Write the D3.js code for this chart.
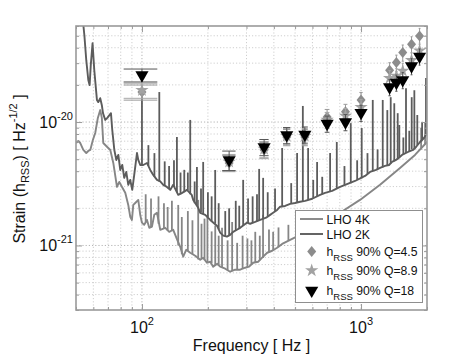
<!DOCTYPE html>
<html><head><meta charset="utf-8">
<script src="https://cdn.jsdelivr.net/npm/d3@7"></script>
<style>body{margin:0;background:#fff} svg{display:block;font-family:Arial,"Liberation Sans",sans-serif}</style>
</head><body><svg id="c" width="474" height="355"></svg>
<script>
// ---------------- data ----------------
// LHO 4K noise curve [frequency Hz, strain 1/sqrt(Hz)]
const lho4k = [[50,6.76e-21],[51.2,7.02e-21],[52.3,6.76e-21],[54.0,5.94e-21],[55.7,5.61e-21],[56.9,5.83e-21],[58.1,5.94e-21],[59.7,7.15e-21],[61.2,8.15e-21],[62.9,1.08e-20],[64.5,1.25e-20],[65.6,1.08e-20],[66.6,6.76e-21],[68.7,6.40e-21],[71.7,5.94e-21],[74.0,4.66e-21],[76.9,2.98e-21],[78.8,3.27e-21],[81.1,2.98e-21],[83.9,2.67e-21],[86.6,2.13e-21],[88.4,1.71e-21],[90.0,1.61e-21],[91.3,2.13e-21],[93.2,2.21e-21],[96.2,2.34e-21],[98.2,1.77e-21],[100,1.53e-21],[102.4,1.47e-21],[105.4,1.61e-21],[108.0,1.39e-21],[111.1,1.42e-21],[113.8,1.77e-21],[117.1,1.84e-21],[121.2,1.34e-21],[127.7,1.39e-21],[133.2,1.29e-21],[138.9,1.34e-21],[144.9,1.11e-21],[149.5,9.76e-22],[154.3,8.11e-22],[159.2,9.23e-22],[166.1,8.73e-22],[175.0,8.26e-22],[184.5,7.66e-22],[190.3,7.96e-22],[197.9,7.25e-22],[204.9,7.38e-22],[211.4,6.73e-22],[220.5,7.11e-22],[227.5,6.73e-22],[239.9,6.48e-22],[252.7,6.13e-22],[266.3,6.36e-22],[280.7,6.36e-22],[295.8,6.60e-22],[308.5,6.73e-22],[321.8,7.25e-22],[339.1,7.38e-22],[353.7,7.96e-22],[372.8,8.73e-22],[392.9,9.06e-22],[414,9.58e-22],[436.4,1.03e-21],[474.6,1.11e-21],[527.2,1.22e-21],[650.3,1.47e-21],[802.3,1.84e-21],[989,2.34e-21],[1221,3.10e-21],[1506,4.25e-21],[1763,5.41e-21],[2000,6.89e-21]];
// LHO 2K noise curve
const lho2k = [[53.6,7.0e-20],[54.6,5.05e-20],[55.7,3.17e-20],[56.9,2.19e-20],[57.7,1.99e-20],[58.4,2.89e-20],[59.5,4.35e-20],[60.6,2.63e-20],[62.3,1.51e-20],[63.2,1.45e-20],[64.5,1.56e-20],[65.6,1.37e-20],[66.4,1.18e-20],[68.0,1.04e-20],[69.5,1.08e-20],[72.2,1.18e-20],[73.2,8.62e-21],[74.8,5.94e-21],[76.4,4.93e-21],[78.0,5.41e-21],[79.6,4.09e-21],[81.3,4.49e-21],[83.0,3.53e-21],[84.8,3.94e-21],[86.6,3.10e-21],[88.4,3.40e-21],[90.3,2.82e-21],[92.2,3.73e-21],[94.9,5.61e-21],[96.2,4.93e-21],[98.2,4.49e-21],[101.4,4.49e-21],[105.4,4.66e-21],[109.1,4.09e-21],[112.6,3.73e-21],[117.1,3.40e-21],[121.2,3.3e-21],[125.1,3.10e-21],[130,2.98e-21],[134.6,2.82e-21],[138.9,3.10e-21],[146.4,2.57e-21],[152.6,2.67e-21],[160.4,2.82e-21],[168.7,2.57e-21],[171.4,2.34e-21],[180.6,2.02e-21],[184.5,1.84e-21],[194.4,1.77e-21],[204.9,1.61e-21],[220.5,1.44e-21],[227.5,1.27e-21],[234.9,1.20e-21],[244.2,1.18e-21],[252.7,1.22e-21],[260.8,1.29e-21],[271.2,1.34e-21],[280.7,1.39e-21],[301.2,1.53e-21],[311.8,1.50e-21],[328.6,1.55e-21],[346.3,1.61e-21],[368.8,1.68e-21],[384.6,1.77e-21],[396.9,1.84e-21],[414,1.94e-21],[427.3,2.06e-21],[450.3,2.09e-21],[474.6,2.17e-21],[500,2.21e-21],[527.2,2.26e-21],[555.6,2.30e-21],[597.9,2.39e-21],[650.3,2.57e-21],[685.4,2.67e-21],[737.7,2.77e-21],[802.3,2.98e-21],[845.5,3.10e-21],[939,3.33e-21],[1043,3.66e-21],[1099,3.94e-21],[1171,4.09e-21],[1221,4.25e-21],[1287,4.41e-21],[1342,4.49e-21],[1385,4.75e-21],[1444,4.93e-21],[1482,5.1e-21],[1538,5.41e-21],[1638,5.72e-21],[1727,5.94e-21],[1782,6.28e-21],[1858,6.89e-21],[1938,7.43e-21],[2000,8.15e-21]];
// narrow lines (spikes): [frequency, base strain, peak strain]
const spikes4k = [[104,1.55e-21,2.6e-21],[110,1.4e-21,2.4e-21],[119,1.5e-21,2.5e-21],[126,1.38e-21,2.2e-21],[131,1.32e-21,2.05e-21],[137,1.32e-21,2.3e-21],[146.4,1.0e-21,2.13e-21],[152,8.5e-22,1.7e-21],[162,9.0e-22,1.9e-21],[170,8.5e-22,1.6e-21],[180.6,7.7e-22,2.34e-21],[187,7.8e-22,1.5e-21],[193,7.6e-22,1.65e-21],[199,7.3e-22,1.77e-21],[208,7.2e-22,1.3e-21],[216,6.9e-22,1.45e-21],[224,6.9e-22,1.2e-21],[232,6.6e-22,1.39e-21],[246,6.3e-22,1.1e-21],[258,6.2e-22,1.55e-21],[272,6.4e-22,1.05e-21],[288,6.5e-22,1.2e-21],[303,6.7e-22,1.14e-21],[316,7.0e-22,1.1e-21],[329,7.3e-22,1.29e-21],[345,7.6e-22,1.2e-21],[357,7.9e-22,1.77e-21],[380,8.8e-22,1.35e-21],[397,9.1e-22,1.29e-21],[420,9.7e-22,1.4e-21],[466,1.1e-21,1.47e-21],[1880,6.0e-21,9.0e-21],[1960,6.6e-21,1.0e-20]];
const spikes2k = [[100,4.5e-21,1.88e-20],[107,4.4e-21,6.5e-21],[114,3.6e-21,5.6e-21],[120,3.3e-21,1.75e-20],[127,3.05e-21,4.8e-21],[133,2.9e-21,4.4e-21],[140,3.0e-21,4.9e-21],[144.4,2.7e-21,7.56e-21],[150,2.6e-21,3.9e-21],[156,2.7e-21,4.1e-21],[162,2.8e-21,3.9e-21],[166.1,2.6e-21,1.04e-20],[174,2.2e-21,3.3e-21],[178.2,2.1e-21,4.33e-21],[186,1.85e-21,2.9e-21],[190.3,1.8e-21,4.75e-21],[200,1.7e-21,2.7e-21],[208,1.58e-21,2.5e-21],[215.9,1.5e-21,4.09e-21],[224,1.35e-21,2.2e-21],[240,1.18e-21,1.9e-21],[250,1.2e-21,2.0e-21],[268,1.32e-21,2.3e-21],[278,1.38e-21,2.1e-21],[289.7,1.45e-21,3.40e-21],[305,1.52e-21,2.4e-21],[320,1.53e-21,2.5e-21],[335,1.57e-21,2.6e-21],[342.7,1.6e-21,4.17e-21],[357.4,1.65e-21,3.53e-21],[375,1.72e-21,2.7e-21],[405,1.9e-21,2.9e-21],[436.4,2.07e-21,6.16e-21],[480,2.18e-21,3.2e-21],[510.7,2.22e-21,5.61e-21],[542.4,2.28e-21,1.35e-20],[573.4,2.33e-21,6.16e-21],[605,2.4e-21,3.4e-21],[630.1,2.5e-21,4.75e-21],[665,2.6e-21,3.6e-21],[722.4,2.75e-21,5.61e-21],[774.9,2.9e-21,6.89e-21],[840,3.1e-21,4.4e-21],[897.5,3.2e-21,9.8e-21],[960,3.4e-21,4.9e-21],[1007,3.5e-21,8.94e-21],[1070,3.8e-21,5.6e-21],[1131,4.0e-21,1.51e-20],[1190,4.15e-21,6.0e-21],[1256,4.3e-21,1.51e-20],[1318,4.45e-21,1.25e-20],[1366,4.6e-21,1.59e-20],[1418,4.8e-21,1.42e-20],[1470,5.0e-21,1.18e-20],[1495,5.1e-21,9.46e-21],[1560,5.45e-21,7.5e-21],[1604,5.6e-21,1.88e-20],[1660,5.8e-21,8.5e-21],[1703,6.0e-21,1.59e-20],[1751,6.1e-21,1.81e-20],[1806,6.5e-21,1.14e-20],[1900,7.1e-21,1.0e-20],[1979,7.8e-21,2.27e-20]];
// hrss 90% upper limits
const centralFreq = [100,250,361,458,554,700,849,1000,1350,1450,1550,1700,1850];
const hrssQ45 = [1.75e-20,4.66e-21,5.94e-21,7.56e-21,7.56e-21,1.10e-20,1.21e-20,1.51e-20,2.63e-20,3.03e-20,3.66e-20,4.27e-20,4.99e-20];
const hrssQ89 = [1.81e-20,4.75e-21,6.05e-21,7.7e-21,7.7e-21,1.04e-20,1.12e-20,1.32e-20,2.27e-20,2.36e-20,2.6e-20,3.17e-20,3.79e-20];
const hrssQ18 = [2.40e-20,4.93e-21,6.28e-21,7.85e-21,7.93e-21,9.72e-21,1.0e-20,1.19e-20,1.92e-20,2.09e-20,2.19e-20,2.84e-20,3.40e-20];
// relative uncertainty of each limit
const errQ45 = [0.14,0.15,0.15,0.15,0.15,0.15,0.15,0.15,0.15,0.15,0.15,0.15,0.15];
const errQ89 = [0.14,0.15,0.15,0.15,0.15,0.15,0.15,0.15,0.15,0.15,0.15,0.15,0.15];
const errQ18 = [0.12,0.18,0.15,0.15,0.15,0.15,0.15,0.15,0.15,0.15,0.15,0.15,0.15];
const capHalfWidthHz = 17.5;
const xTickLabels = [[100,"10","2"],[1000,"10","3"]];
const yTickLabels = [[1e-20,"10","-20"],[1e-21,"10","-21"]];
const legendLabels = ["LHO 4K","LHO 2K","90% Q=4.5","90% Q=8.9","90% Q=18"];

// ---------------- chart ----------------
const L=76,R=427,T=26,B=310;
const svg=d3.select("#c");
const x=d3.scaleLog().domain([50,2000]).range([L,R]);
const y=d3.scaleLog().domain([3e-22,6e-20]).range([B,T]);
const isDecade=v=>Math.abs(Math.log10(v)-Math.round(Math.log10(v)))<1e-6;

svg.append("defs").append("clipPath").attr("id","pc").append("rect")
  .attr("x",L).attr("y",T).attr("width",R-L).attr("height",B-T);

// grid
const gx=x.ticks().filter(v=>v>50&&v<2000), gy=y.ticks().filter(v=>v>3e-22*1.01&&v<6e-20*0.99);
const grid=svg.append("g");
grid.selectAll("line.gx").data(gx).join("line").attr("class","gx")
  .attr("x1",d=>x(d)).attr("x2",d=>x(d)).attr("y1",T).attr("y2",B)
  .attr("stroke",d=>isDecade(d)?"#b4b4b4":"#cfcfcf").attr("stroke-width",1).attr("stroke-dasharray","1.2,2");
grid.selectAll("line.gy").data(gy).join("line").attr("class","gy")
  .attr("y1",d=>y(d)).attr("y2",d=>y(d)).attr("x1",L).attr("x2",R)
  .attr("stroke",d=>isDecade(d)?"#b4b4b4":"#cfcfcf").attr("stroke-width",1).attr("stroke-dasharray","1.2,2");

// curves
const line=d3.line().x(d=>x(d[0])).y(d=>y(d[1]));
const plot=svg.append("g").attr("clip-path","url(#pc)");
const c4="#868686", c2="#5c5c5c";
plot.append("path").datum(lho4k).attr("d",line).attr("fill","none").attr("stroke",c4).attr("stroke-width",1.9).attr("stroke-linejoin","round");
plot.selectAll("line.s4").data(spikes4k).join("line").attr("class","s4")
  .attr("x1",d=>x(d[0])).attr("x2",d=>x(d[0])).attr("y1",d=>y(d[1])).attr("y2",d=>y(d[2]))
  .attr("stroke",c4).attr("stroke-width",1.8);
plot.append("path").datum(lho2k).attr("d",line).attr("fill","none").attr("stroke",c2).attr("stroke-width",1.9).attr("stroke-linejoin","round");
plot.selectAll("line.s2").data(spikes2k).join("line").attr("class","s2")
  .attr("x1",d=>x(d[0])).attr("x2",d=>x(d[0])).attr("y1",d=>y(d[1])).attr("y2",d=>y(d[2]))
  .attr("stroke",c2).attr("stroke-width",1.8);

// markers
const diamondPath="M0,-5.5L4.5,0L0,5.5L-4.5,0Z";
const starPath=d3.symbol().type(d3.symbolStar).size(55)();
const triPath=d3.symbol().type(d3.symbolTriangle).size(75)();
const series=[
  {vals:hrssQ45,err:errQ45,col:"#8c8c8c",ecol:"#9a9a9a",path:diamondPath,rot:0},
  {vals:hrssQ89,err:errQ89,col:"#a2a2a2",ecol:"#a8a8a8",path:starPath,rot:0},
  {vals:hrssQ18,err:errQ18,col:"#000",ecol:"#555",path:triPath,rot:180}
];
const mk=svg.append("g");
series.forEach(s=>{
  const pts=centralFreq.map((f,i)=>({f,v:s.vals[i],e:s.err[i]}));
  const g=mk.append("g");
  g.selectAll("line.v").data(pts).join("line").attr("x1",d=>x(d.f)).attr("x2",d=>x(d.f))
    .attr("y1",d=>y(d.v*(1+d.e))).attr("y2",d=>y(d.v*(1-d.e))).attr("stroke",s.ecol).attr("stroke-width",1);
  ["hi","lo"].forEach(k=>{
    g.selectAll("line.c"+k).data(pts).join("line")
      .attr("x1",d=>x(d.f-capHalfWidthHz)).attr("x2",d=>x(d.f+capHalfWidthHz))
      .attr("y1",d=>y(d.v*(k==="hi"?1+d.e:1-d.e))).attr("y2",d=>y(d.v*(k==="hi"?1+d.e:1-d.e)))
      .attr("stroke",s.ecol).attr("stroke-width",1);
  });
  g.selectAll("path").data(pts).join("path").attr("d",s.path)
    .attr("transform",d=>`translate(${x(d.f)},${y(d.v)}) rotate(${s.rot})`).attr("fill",s.col);
});

// axes frame & ticks (inside, all 4 sides)
const axCol="#9a9a9a";
function styleAxis(g){
  g.select(".domain").remove();
  g.selectAll(".tick line").attr("stroke",axCol).attr("stroke-width",1);
  g.selectAll("text").remove();
}
const xt=x.ticks(), yt=y.ticks();
const ab=svg.append("g").attr("transform",`translate(0,${B})`).call(d3.axisBottom(x).tickValues(xt).tickSizeOuter(0).tickSizeInner(-5));
ab.selectAll(".tick line").attr("y2",d=>isDecade(d)?-6:-3);
const at=svg.append("g").attr("transform",`translate(0,${T})`).call(d3.axisTop(x).tickValues(xt).tickSizeOuter(0).tickSizeInner(-5));
at.selectAll(".tick line").attr("y2",d=>isDecade(d)?6:3);
const al=svg.append("g").attr("transform",`translate(${L},0)`).call(d3.axisLeft(y).tickValues(yt).tickSizeOuter(0).tickSizeInner(-5));
al.selectAll(".tick line").attr("x2",d=>isDecade(d)?6:3);
const ar=svg.append("g").attr("transform",`translate(${R},0)`).call(d3.axisRight(y).tickValues(yt).tickSizeOuter(0).tickSizeInner(-5));
ar.selectAll(".tick line").attr("x2",d=>isDecade(d)?-6:-3);
[ab,at,al,ar].forEach(g=>styleAxis(g));
svg.append("rect").attr("x",L).attr("y",T).attr("width",R-L).attr("height",B-T)
  .attr("fill","none").attr("stroke",axCol).attr("stroke-width",1.6);

// tick labels
const tl=svg.append("g").attr("fill","#111");
xTickLabels.forEach(([v,b,e])=>{
  const t=tl.append("text").attr("x",x(v)).attr("y",B+23).attr("text-anchor","middle").attr("font-size",16);
  t.append("tspan").text(b);
  t.append("tspan").attr("dy",-8).attr("font-size",11).text(e);
});
yTickLabels.forEach(([v,b,e])=>{
  const t=tl.append("text").attr("x",L-3).attr("y",y(v)+6).attr("text-anchor","end").attr("font-size",16);
  t.append("tspan").text(b);
  t.append("tspan").attr("dy",-8).attr("font-size",11).text(e);
});

// axis titles
svg.append("text").attr("x",(L+R)/2).attr("y",351).attr("text-anchor","middle")
  .attr("font-size",16).attr("fill","#111").text("Frequency [ Hz ]");
const yt2=svg.append("text").attr("transform",`translate(25,${(T+B)/2+1}) rotate(-90)`)
  .attr("text-anchor","middle").attr("font-size",16).attr("fill","#111");
yt2.append("tspan").text("Strain (h");
yt2.append("tspan").attr("font-size",11).attr("dy",4).text("RSS");
yt2.append("tspan").attr("dy",-4).text(") [ Hz");
yt2.append("tspan").attr("font-size",11).attr("dy",-8).text("-1/2");
yt2.append("tspan").attr("dy",8).text(" ]");

// legend
const lg=svg.append("g");
lg.append("rect").attr("x",295.5).attr("y",210.5).attr("width",127).attr("height",92)
  .attr("fill","#fff").attr("stroke","#8f8f8f").attr("stroke-width",1);
const rowsY=[219,234,251.5,270.5,290.5];
[[c4,0],[c2,1]].forEach(([col,i])=>{
  lg.append("line").attr("x1",300).attr("x2",323).attr("y1",rowsY[i]).attr("y2",rowsY[i])
    .attr("stroke",col).attr("stroke-width",1.9);
  lg.append("text").attr("x",326.5).attr("y",rowsY[i]+4.5).attr("font-size",12.2).attr("fill","#111").text(legendLabels[i]);
});
series.forEach((s,j)=>{
  const yy=rowsY[j+2];
  lg.append("path").attr("d",s.path).attr("fill",s.col).attr("transform",`translate(311.7,${yy}) rotate(${s.rot})`);
  const t=lg.append("text").attr("x",326.5).attr("y",yy+4).attr("font-size",12.2).attr("fill","#111");
  t.append("tspan").text("h");
  t.append("tspan").attr("dy",5).attr("font-size",9.5).text("RSS");
  t.append("tspan").attr("dy",-5).text(" "+legendLabels[j+2]);
});
</script></body></html>
